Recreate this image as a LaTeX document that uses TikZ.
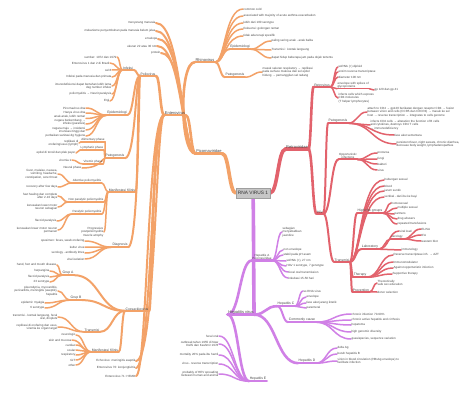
\documentclass[tikz,border=0pt]{standalone}
\usepackage{fontspec}
\setmainfont{Liberation Sans}
\usetikzlibrary{calc}
\pgfdeclarelayer{bg}
\pgfsetlayers{bg,main}
\definecolor{orc}{RGB}{243,162,104}
\definecolor{rdc}{RGB}{226,98,108}
\definecolor{puc}{RGB}{208,128,230}
\definecolor{txc}{RGB}{72,72,72}
\newcommand\fntA{\fontsize{3}{3.5}\selectfont}
\newcommand\fntB{\fontsize{3.4}{3.9}\selectfont}
\newcommand\fntC{\fontsize{4}{4.6}\selectfont}
\newcommand\fntR{\fontsize{4.8}{5.5}\selectfont}
\tikzset{
 lfL/.style={anchor=east,align=right,inner sep=0.4pt,font=\fntA,text=txc},
 lfR/.style={anchor=west,align=left,inner sep=0.4pt,font=\fntA,text=txc},
 mA/.style={inner sep=0.4pt,font=\fntA,text=txc,align=center},
 mB/.style={inner sep=0.4pt,font=\fntB,text=txc,align=center},
 mH/.style={inner sep=0.5pt,font=\fntC,text=txc},
 hs/.style={to path={let \p1=(\tikztostart),\p2=(\tikztotarget) in .. controls ({\x1+#1*(\x2-\x1)},\y1) and ({\x1+#1*(\x2-\x1)},\y2) .. (\tikztotarget) \tikztonodes}},
 hs/.default=0.5,
 Ao/.style={draw=orc,line width=3.6pt,line cap=round,hs},
 Bo/.style={draw=orc,line width=2.6pt,line cap=round,hs},
 Co/.style={draw=orc,line width=2pt,line cap=round,hs},
 Do/.style={draw=orc,line width=1.5pt,line cap=round,hs},
 Ar/.style={draw=rdc,line width=3.6pt,line cap=round,hs},
 Br/.style={draw=rdc,line width=2.6pt,line cap=round,hs},
 Cr/.style={draw=rdc,line width=2pt,line cap=round,hs},
 Dr/.style={draw=rdc,line width=1.5pt,line cap=round,hs},
 Ap/.style={draw=puc,line width=3.6pt,line cap=round,hs},
 Bp/.style={draw=puc,line width=2.6pt,line cap=round,hs},
 Cp/.style={draw=puc,line width=2pt,line cap=round,hs},
 Dp/.style={draw=puc,line width=1.5pt,line cap=round,hs},
}
\newcommand\cn[3]{\begin{pgfonlayer}{bg}\draw[#1] (#2) to (#3);\end{pgfonlayer}}
\newcommand\udl[2]{\begin{pgfonlayer}{bg}\draw[#1] (#2.south west) -- (#2.south east);\end{pgfonlayer}}
\newcommand\fanL[3]{\foreach \nA/\xA/\yA/\tA in {#3}{\node[lfL] (\nA) at (\xA,\yA) {\tA};\cn{#1}{#2}{\nA.east}}}
\newcommand\fanR[3]{\foreach \nA/\xA/\yA/\tA in {#3}{\node[lfR] (\nA) at (\xA,\yA) {\tA};\cn{#1}{#2}{\nA.west}}}
\begin{document}
\begin{tikzpicture}[x=1pt,y=-1pt]
\useasboundingbox (0,0) rectangle (474,412);
\begin{pgfonlayer}{bg}\fill[white] (0,0) rectangle (474,412);\end{pgfonlayer}
\node[draw=gray!75,fill=gray!45,text=black!80,font=\fntR,minimum width=34pt,minimum height=10pt,inner sep=1pt] (root) at (253,193) {RNA VIRUS 1};

% ---------------- orange ----------------
\node[mH] (pic) at (209,151.5) {Picornaviridae};
\cn{Ao}{root.west}{pic.south east}
\udl{Ao}{pic}
\node[mH] (rhi) at (205,60) {Rhinovirus};
\begin{pgfonlayer}{bg}\draw[Bo] (pic.south west) .. controls +(-16,0) and +(-16,0) .. (rhi.south west);\end{pgfonlayer}
\udl{Bo}{rhi}
\fanR{Do,hs=0.35}{rhi.south east}{r1/243/9/{common cold}, r2/243/16/{associated with majority of acute asthma exacerbation}, r3/243/23/{lebih dari 100 serotype}, r4/243/29/{frekuensi: golongan rentan}, r5/243/36/{tidak ada terapi spesifik}}
\node[mB] (rep) at (240,47) {Epidemiologi};
\cn{Co}{rhi.south east}{rep.south west}
\udl{Co}{rep}
\fanR{Do}{rep.south east}{e1/271/41/{paling sering anak - anak balita}, e2/271/50/{Transmisi : kontak langsung}, e3/271/58/{dapat hidup beberapa jam pada objek tertentu}}
\node[mB] (rpat) at (235,75) {Patogenesis};
\cn{Co}{rhi.south east}{rpat.south west}
\udl{Co}{rpat}
\fanR{Do}{rpat.south east}{p1/262/72/{masuk saluran respiratory → replikasi\\pada surface mukosa dan sel epitel\\hidung → pemanggilan sel radang}}
\fanL{Co,hs=0.35}{pic.south west}{t1/156/23/{menyerang manusia}, t2/156/31/{mekanisme penyembuhan pada manusia belum jelas}, t3/158/39/{envelope}, t4/157/46/{ukuran 22 atau 30 nm}, t5/161/53/{protein}}

\node[mH] (ent) at (175,113) {Enterovirus};
\cn{Bo}{pic.south west}{ent.south east}
\udl{Bo}{ent}
\node[mB] (pol) at (148,74) {Poliovirus};
\cn{Bo}{ent.south west}{pol.south east}
\udl{Bo}{pol}
\node[mB] (inf) at (128,68) {Infeksi};
\cn{Co}{pol.south west}{inf.south east}
\udl{Co}{inf}
\fanL{Do}{inf.south west}{a1/117/57/{sumber: 1972 dan 1979}, a2/110/63/{Enterovirus 1 dan 2 di Brazil}, a3/112/70/{sel 8}, a4/112/77/{Infeksi pada manusia dan primata}, a5/112/86/{imunodefisiensi dapat bertahan lebih lama\\dsg number infeksi}, a6/112/94/{poliomyelitis → Neurit paralysis}, a7/110/101/{Ergi}}
\node[mB] (epi) at (117,113) {Epidemiologi};
\cn{Co}{pol.south west}{epi.south east}
\udl{Co}{epi}
\fanL{Do}{epi.south west}{b1/86/108/{Picornavirus dna}, b2/86/113/{Hanya virus dna}, b3/86/118.5/{anak-anak, lebih rentan\\negara berkembang →}, b4/86/124/{infeksi (paralisis)}, b5/86/130/{negara maju → insidensi\\imunisasi tinggi dan}, b6/86/136/{perbaikan sanitasi dg hygiene}}
\node[mB] (pato) at (115,156) {Patogenesis};
\cn{Co,hs=0.3}{pol.south west}{pato.south east}
\udl{Co}{pato}
\node[mA] (ph1) at (93,140) {Alimentary phase};
\cn{Do}{pato.south west}{ph1.south east}\udl{Do}{ph1}
\fanL{Do}{ph1.south west}{c1/79/143/{replikasi di\\orofaring/usus (lymph)}}
\node[mA] (ph2) at (92,148) {Lymphatic phase};
\cn{Do}{pato.south west}{ph2.south east}\udl{Do}{ph2}
\fanL{Do}{ph2.south west}{c2/76/153/{epitel di tonsil dan plak peyer}}
\node[mA] (ph3) at (93,162) {Viremic phase};
\cn{Do}{pato.south west}{ph3.south east}\udl{Do}{ph3}
\fanL{Do}{ph3.south west}{c3/72/160/{viremia 1}}
\fanL{Do,hs=0.15}{pato.south west}{ph4/82/168/{Neural phase}}

\node[mB] (man) at (122,190) {Manifestasi Klinis};
\cn{Co}{pol.south west}{man.south east}
\udl{Co}{man}
\node[mA] (ab) at (87,181) {Abortive poliomyelitis};
\cn{Do}{man.south west}{ab.south east}\udl{Do}{ab}
\fanL{Do}{ab.south west}{d1/58/174/{fever, malaise, nausea,\\vomiting, headache,\\constipation, sore throat}, d2/58/187/{recovery after few days}}
\node[mA] (np) at (86,200) {Non paralytic poliomyelitis};
\cn{Do}{man.south west}{np.south east}\udl{Do}{np}
\fanL{Do}{np.south west}{d3/58/196/{fast healing dan complete\\after 2-10 days}, d4/58/207/{kerusakan lower motor\\neuron sebagian}}
\node[mA] (pp) at (87,212) {Paralytic poliomyelitis};
\cn{Do}{man.south west}{pp.south east}\udl{Do}{pp}
\fanL{Do}{pp.south west}{d5/57/221/{flaccid paralysis}, d6/58/230/{kerusakan lower motor neuron\\permanen}}
\fanL{Do}{man.south west}{pm/104/232/{Progressive\\postpoliomyelitis\\muscle atrophy}}
\node[mB] (dia) at (120,245) {Diagnosis};
\cn{Co,hs=0.1}{pol.south west}{dia.south east}
\udl{Co}{dia}
\fanL{Do}{dia.south west}{f1/85/241/{spesimen: feses, swab orofaring}, f2/85/247/{kultur virus}, f3/85/253/{serology - antibody titres}, f4/85/259/{viral isolation}}

\node[mB] (cox) at (137,309) {Coxsackievirus};
\cn{Bo,hs=0.8}{ent.south west}{cox.south east}
\udl{Bo}{cox}
\node[mB] (ga) at (68,273) {Grup A};
\cn{Co}{cox.south west}{ga.south east}\udl{Co}{ga}
\fanL{Do}{ga.south west}{g1/57/265/{hand, foot and mouth disease}, g2/50/271/{herpangina}, g3/50/277/{flaccid paralysis}, g4/50/282/{23 serotype}}
\node[mB] (gb) at (76,298) {Grup B};
\cn{Co}{cox.south west}{gb.south east}\udl{Co}{gb}
\fanL{Do}{gb.south west}{h1/58/291/{pleurodynia, myocarditis,\\pericarditis, meningitis (aseptik),\\hepatitis}, h2/45/303/{epidemic myalgia}, h3/45/308/{6 serotype}}
\node[mB] (tr) at (92,330) {Transmisi};
\cn{Co}{cox.south west}{tr.south east}\udl{Co}{tr}
\fanL{Do}{tr.south west}{k1/58/317/{transmisi - kontak langsung, fecal\\oral, droplets}, k2/58/327/{replikasi di orofaring dan usus,\\viremia ke organ target}}
\node[mB] (mk) at (105,350) {Manifestasi Klinis};
\cn{Co}{cox.south west}{mk.south east}\udl{Co}{mk}
\fanL{Do}{mk.south west}{m1/76/335/{neurologic}, m2/72/340/{skin and mucosa}, m3/76/345/{cardiac}, m4/76/350/{ocular}, m5/76/355/{respiratory}, m6/76/360/{GIT}, m7/76/365/{other}}
\fanL{Co,hs=0.3}{ent.south west}{n1/136/361/{Echovirus: meningitis aseptik}}
\fanL{Co,hs=0.45}{ent.south west}{n2/136/368/{Enterovirus 70: konjungtivitis}}
\fanL{Co,hs=0.6}{ent.south west}{n3/136/376/{Enterovirus 71: HFMD}}

% ---------------- red ----------------
\node[mH] (ret) at (297,147) {Retroviridae};
\cn{Ar}{root.east}{ret.south west}
\udl{Ar}{ret}
\node[mB] (rv) at (322,85) {Retrovirus};
\cn{Br}{ret.south east}{rv.south west}
\udl{Br}{rv}
\fanR{Dr}{rv.south east}{q1/338/67/{ssRNA (+) diploid}, q2/338/72/{enzim reverse transcriptase}, q3/338/77/{diameter 100 nm}, q5/338/98/{infects cells which express\\CD4 molecules\\(T helper lymphocytes)}}
\node[lfR] (qe) at (337,85) {envelope with spikes of\\glycoproteins};
\cn{Dr}{rv.south east}{qe.south west}
\udl{Dr}{qe}
\fanR{Dr}{qe.south east}{gp/374/90/{gp 120 dan gp 41}}
\node[mB] (hiv) at (320,212) {HIV};
\cn{Br}{ret.south east}{hiv.south west}
\udl{Br}{hiv}
\node[mB] (hpat) at (338,121) {Patogenesis};
\cn{Cr}{hiv.south east}{hpat.south west}
\udl{Cr}{hpat}
\fanR{Dr}{hpat.south east}{s1/367/112/{attach to CD4 → gp120 berikatan dengan reseptor CD4 → fusion\\between virion and cells (CCR5 dan CXCR4) → masuk ke sel\\host → reverse transcription → integrates to cells genome}, s2/370/125/{infects CD4 cells → alteration the function of B cells\\and cytokines, destroys CD4 T cells\\→ immunodeficiency}, s3/394/135/{fase akut sementara}, s4/396/144/{persistent fever, night sweats, chronic diarrhea,\\decrease body weight, lymphadenopathies}}
\node[mA] (oi) at (348,156) {Opportunistic\\infections};
\cn{Cr}{hiv.south east}{oi.south west}
\udl{Cr}{oi}
\fanR{Dr}{oi.south east}{oa1/377/153/{protozoa}, oa2/377/159/{fungi}, oa3/377/164/{bakteri}, oa4/377/170/{virus}}
\node[mB] (tm) at (342,260) {Transmisi};
\cn{Cr}{hiv.south east}{tm.south west}
\udl{Cr}{tm}
\fanR{Dr,hs=0.3}{tm.south east}{w1/384/180/{hubungan sexual}, w2/384/186/{blood}, w3/384/191/{jarum suntik}, w4/384/197/{vertikal - dari ibu ke bayi}}
\node[mB] (hr) at (370,211) {High risk groups};
\cn{Cr}{tm.south east}{hr.south west}\udl{Cr}{hr}
\fanR{Dr}{hr.south east}{v1/391/203/{homosexual}, v2/397/208/{multiple sexual}, v3/394/214/{partners}, v4/397/219/{drug abusers}, v5/397/224/{repeated transfusions}}
\node[mB] (lab) at (370,247) {Laboratory};
\cn{Cr}{tm.south east}{lab.south west}\udl{Cr}{lab}
\fanR{Dr}{lab.south east}{vl/399/231/{viral load}, im/401/250/{immunology}}
\node[mA] (ser) at (397,237) {serology};
\cn{Dr}{lab.south east}{ser.south west}\udl{Dr}{ser}
\fanR{Dr}{ser.south east}{el1/421/229/{ELISA}, el2/421/235/{IFA}, el3/421/241/{western blot}}
\node[mB] (thr) at (360,275) {Therapy};
\cn{Cr}{tm.south east}{thr.south west}\udl{Cr}{thr}
\fanR{Dr}{thr.south east}{th1/393/255/{Reverse transcriptase inh. → AZT}, th2/393/262/{Immunomodulator}, th3/393/268/{Against opportunistic infection}, th4/392/274/{Supportive therapy}}
\node[mB] (prv) at (361,290) {Prevention};
\cn{Cr}{tm.south east}{prv.south west}\udl{Cr}{prv}
\fanR{Dr}{prv.south east}{pv1/377/283/{Theoretically\\safe sex education}, pv2/377/292/{donor selection}}

% ---------------- purple ----------------
\node[mH] (hv) at (241,312) {Hepatitis virus};
\cn{Ap}{root.south}{hv.south east}
\udl{Ap}{hv}
\node[mA] (ha) at (262,257) {Hepatitis A\\Picornaviridae};
\cn{Bp}{hv.south west}{ha.south west}
\udl{Bp}{ha}
\fanR{Dp}{ha.south east}{ja/282/232/{sebagian\\menyebabkan\\jaundice}, la1/283/250/{non envelope}, la2/283/255/{stabil pada pH asam}, la3/286/261/{ssRNA (+), 27 nm}, la4/286/266/{HAV 1 serotype, 7 genotype}, la5/288/272/{fecal oral transmission}, la6/288/278/{inkubasi 15-50 hari}}
\node[mB] (hc) at (286,304) {Hepatitis C};
\cn{Bp}{hv.south east}{hc.south west}\udl{Bp}{hc}
\fanR{Dp}{hc.south east}{lc1/303/291/{ss RNA virus}, lc2/306/297/{envelope}, lc3/306/303/{fase akut jarang ikterik}, lc4/306/308/{parenteral}}
\node[mB] (cc) at (302,320) {Commonly cause};
\cn{Cp}{hc.south west}{cc.south west}\udl{Cp}{cc}
\fanR{Dp}{cc.south east}{x1/351/314/{chronic infection 70-90\%}, x2/351/320/{chronic active hepatitis and cirrhosis}, x3/351/325/{hepatoma}, x4/351/332/{high genomic diversity}, x5/351/339/{quasispecies, sequence variation}}
\node[mB] (hd) at (307,361) {Hepatitis D};
\cn{Bp}{hv.south east}{hd.south west}\udl{Bp}{hd}
\fanR{Dp}{hd.south east}{y1/337/348/{delta Ag}, y2/337/354/{butuh hepatitis B}, y3/337/361/{virion in blood circulation (HBsAg envelope) to\\facilitate infection}}
\node[mB] (he) at (258,379) {Hepatitis E};
\cn{Bp}{hv.south west}{he.south west}\udl{Bp}{he}
\fanL{Dp}{he.south west}{z1/219/336/{fecal oral}, z2/219/344/{outbreak tahun 1955 di New\\Delhi dan Kashmir 1978}, z3/219/355/{mortality 20\% pada ibu hamil}, z4/219/364/{virus - reverse transcription}, z5/219/374/{probably of HEV spreading\\between human and animal}}
\end{tikzpicture}
\end{document}
